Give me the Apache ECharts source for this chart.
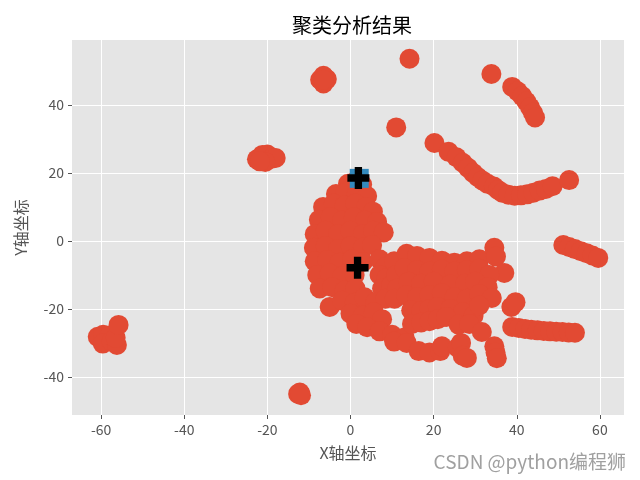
<!DOCTYPE html>
<html>
<head>
<meta charset="utf-8">
<script src="https://cdn.jsdelivr.net/npm/echarts@6/dist/echarts.min.js"></script>
<style>html,body{margin:0;padding:0;background:#fff;}#c{width:640px;height:480px;}</style>
</head>
<body>
<div id="c"></div>
<script>
// ---- data ----
const xTicks = [-60, -40, -20, 0, 20, 40, 60];
const yTicks = [-40, -20, 0, 20, 40];

const isolatedTop = [[-7.3,47.4],[-5.7,47.6],[-6.5,46.3],[-6.5,48.6],[-6.5,47.4],[14.2,53.6],[11,33.4]];
const upperRightArc = [[33.9,49.1],[38.9,45.3],[40.2,44],[41.3,42.6],[42.3,41],[43.2,39.3],[43.9,37.7],[44.4,36.3]];
const midArc = [[20.2,28.8],[23.6,26.2],[25.5,24.6],[27,23],[28.3,21.5],[29.5,20],[30.6,18.8],[31.7,17.8],[33,16.8],[34.5,16],[35.5,15],[36.5,14.2],[38,13.6],[39.5,13.3],[41,13.4],[42.5,13.7],[44,14.2],[45.5,14.8],[47,15.3],[48.6,16.1],[52.6,17.9]];
const leftCluster = [[-22.5,24],[-21.2,25.3],[-20,25.4],[-19,24.2],[-18,24.4],[-20.5,23.2],[-21.8,23.4]];
const farLeftCluster = [[-60.8,-28.2],[-59.5,-27.6],[-58,-27.8],[-59.6,-30.2],[-57.5,-29.5],[-56.2,-30.6],[-56.5,-28.5],[-55.8,-24.7]];
const bottomIsolated = [[-12.6,-45],[-11.9,-45.4],[-12.2,-44.6]];
const rightLineUpper = [[51.2,-1.2],[52.6,-1.8],[54,-2.4],[55.4,-3],[56.8,-3.6],[58.2,-4.3],[59.6,-5]];
const rightLineLower = [[38.9,-25.3],[40.5,-25.6],[42,-25.9],[43.5,-26.1],[45,-26.3],[46.5,-26.5],[48,-26.6],[49.5,-26.7],[51,-26.8],[52.5,-26.9],[54,-27],[38.7,-19.4],[39.7,-18],[34.6,-31],[34.9,-32.8],[35.2,-34.5]];
const mainBlob = [
  [-0.6,16.8],[1.2,17.6],[2.8,16.6],[0,15],
  [-3.5,13.8],[-1.2,14.2],[1.5,13.8],[4,13.2],
  [-6.6,10],[-4,11],[-1.4,10.4],[1.2,11],[3.8,10],[5.4,8.6],
  [-7.6,6.2],[-4.8,7],[-2,6],[0.8,7],[3.5,6],[6.4,5.6],
  [-8.6,2],[-6,3],[-3,2],[0,3],[3,2],[5.5,3],[8,2.5],
  [-8.8,-2],[-6,-1.6],[-3,-2.4],[0,-1.5],[3,-2],[5.2,-1.2],
  [-8.6,-6],[-5.6,-5.6],[-2.6,-6.4],[0.4,-5.4],[3,-6.2],[7,-5.4],[8.4,-7.6],
  [-8,-10],[-5,-9.6],[-2,-10.4],[1,-10],[7,-10],[8.6,-11],
  [-7.4,-14],[-4.4,-13.6],[-1.4,-14.6],[1.2,-14],[7.6,-14],[9.8,-13],
  [-5,-19.4],[-2,-17.6],[1,-18.2],[3.4,-16.6],[6,-18],[8.4,-17],
  [0,-21.4],[3,-22],[5.6,-21],[7.6,-23],
  [1.4,-24.4],[4,-25.4],[7,-26.6],[10,-27.6],[13,-28.4],
  [10.5,-6],[11,-10],[11.2,-14],[10.6,-17]
];
const bottomChain = [[10.5,-29.6],[13.5,-30],[16.4,-32.4],[19,-32.8],[21.6,-32.4],[22,-31],[25.8,-31.4],[26.6,-30],[27,-33.8],[28,-34.4]];
const rightMid = [
  [13.5,-3.8],[16,-4.4],[19,-5],[22,-5.8],[25,-6.4],[28,-6],[31,-5.4],[34.6,-2],[35,-4.6],[37,-9.4],
  [13,-8],[16,-8.6],[19,-9],[22,-8.4],[25,-9],[28,-8.6],[31,-8.2],[33.4,-10],
  [14,-12],[17,-12.6],[20,-12],[24,-12.8],[27.6,-12.6],[30,-12],[33,-13.6],
  [13.4,-16],[16,-16.6],[19,-16],[22,-15.4],[25,-16.6],[28,-17],[31,-15.6],[34,-16.8],
  [14.6,-20.4],[17,-20.6],[19,-20],[21,-19.4],[24,-20],[27,-21],[29.6,-22],[31,-19],
  [14.8,-24.4],[17,-24],[19,-23.6],[21,-23],[23,-22.4],[26,-24.6],[28.6,-24.4],[31.6,-26.8]
];
const centerSquare = [[2.1,18.4]];
const centroids = [[1.9,18.5],[1.7,-7.9]];

const cluster0 = [].concat(isolatedTop, upperRightArc, midArc, leftCluster, farLeftCluster,
  bottomIsolated, rightLineUpper, rightLineLower, mainBlob, bottomChain, rightMid);

const FONT = '"Noto Sans CJK SC", "DejaVu Sans", sans-serif';
const chart = echarts.init(document.getElementById('c'), null, {renderer: 'canvas'});
const axisCommon = {
  type: 'value',
  axisLine: {show: false, onZero: false},
  splitLine: {show: true, lineStyle: {color: '#ffffff', width: 1}},
  nameLocation: 'middle',
  nameTextStyle: {fontSize: 16, color: '#555555', fontFamily: FONT}
};
const noEdge = {borderWidth: 0, borderColor: 'transparent', shadowBlur: 0, opacity: 1};
chart.setOption({
  animation: false,
  backgroundColor: '#ffffff',
  title: {text: '聚类分析结果', left: 287, top: 10,
    textStyle: {fontSize: 20, fontWeight: 'normal', color: '#000', fontFamily: FONT}},
  grid: {left: 72, right: 16, top: 40, bottom: 65, show: true, backgroundColor: '#E5E5E5', borderWidth: 0},
  xAxis: Object.assign({}, axisCommon, {
    min: -67, max: 65.8, splitNumber: 7,
    name: 'X轴坐标', nameGap: 30,
    axisTick: {show: true, length: 4, lineStyle: {color: '#555555'}, customValues: xTicks},
    axisLabel: {customValues: xTicks, color: '#555555', fontSize: 14, margin: 8, fontFamily: FONT}
  }),
  yAxis: Object.assign({}, axisCommon, {
    min: -51.2, max: 59.1, splitNumber: 6,
    name: 'Y轴坐标', nameGap: 43,
    axisTick: {show: true, length: 4, lineStyle: {color: '#555555'}, customValues: yTicks},
    axisLabel: {customValues: yTicks, color: '#555555', fontSize: 14, margin: 8, fontFamily: FONT}
  }),
  series: [
    {type: 'scatter', data: cluster0, symbol: 'circle', symbolSize: 20,
     itemStyle: Object.assign({color: '#E24A33'}, noEdge), emphasis: {disabled: true}, z: 2},
    {type: 'scatter', data: centerSquare, symbol: 'rect', symbolSize: 19,
     itemStyle: Object.assign({color: '#348ABD'}, noEdge), emphasis: {disabled: true}, z: 3},
    {type: 'scatter', data: centroids,
     symbol: 'path://M1,0H2V1H3V2H2V3H1V2H0V1H1Z', symbolSize: 22,
     itemStyle: Object.assign({color: '#000000'}, noEdge), emphasis: {disabled: true}, z: 4}
  ],
  graphic: [{
    type: 'text', right: 14, bottom: 9,
    style: {text: 'CSDN @python编程狮', fill: '#a0a0a0', font: '19px ' + FONT}
  }]
});
</script>
</body>
</html>
